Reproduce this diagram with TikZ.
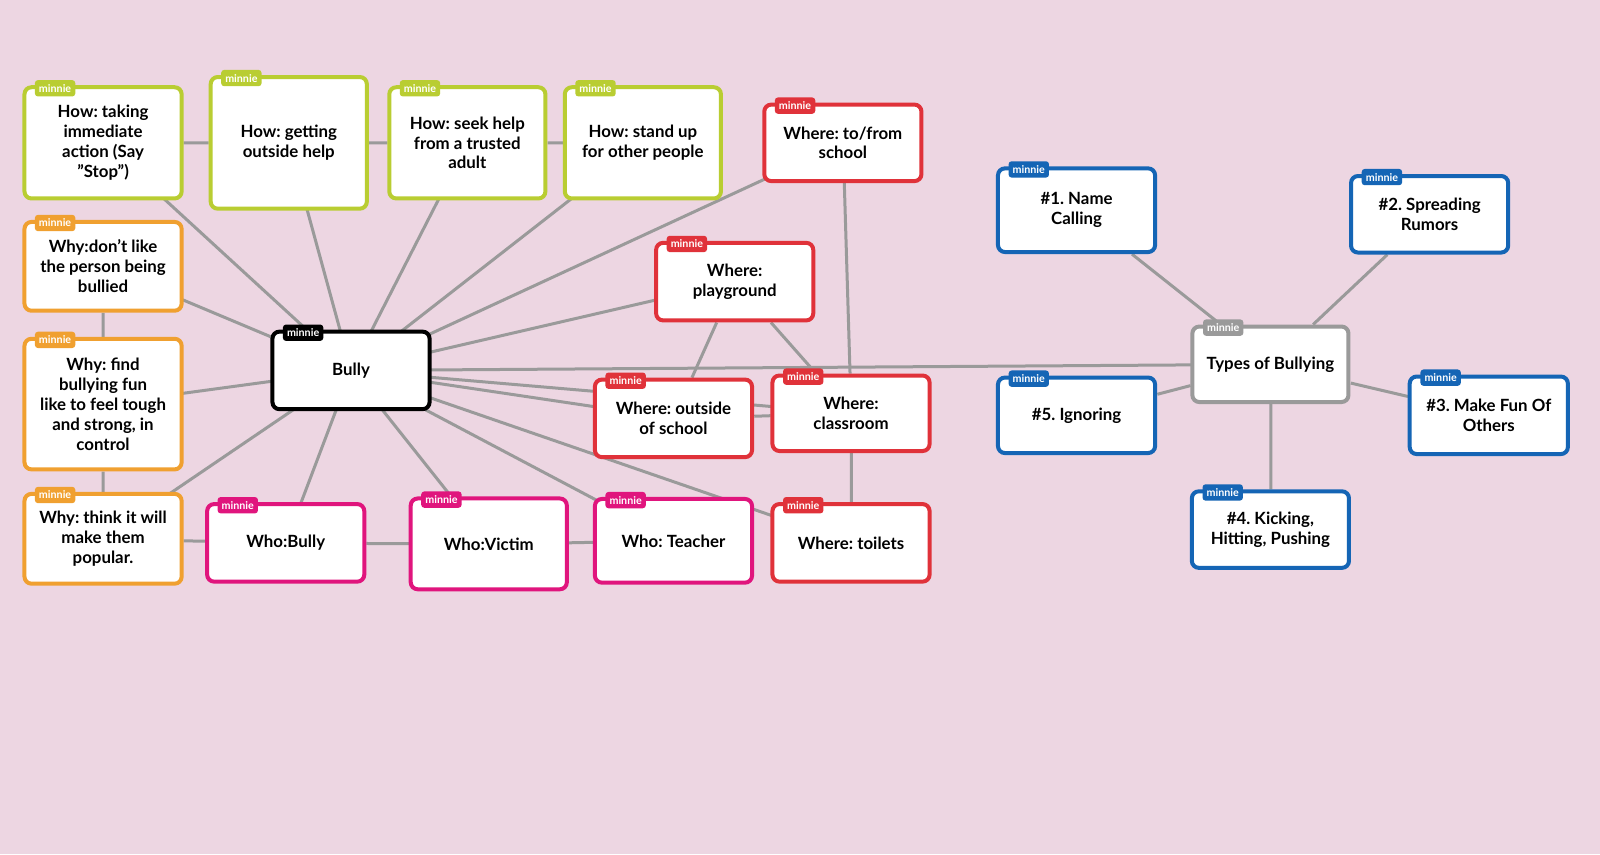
\documentclass[tikz,border=0pt]{standalone}
\usepackage{fontspec}
\setmainfont{Lato}
\frenchspacing
\begin{document}
\pgfdeclarelayer{bg}\pgfdeclarelayer{edges}\pgfsetlayers{bg,edges,main}
\definecolor{bgp}{HTML}{EDD6E2}
\definecolor{cg}{HTML}{B9CD32}
\definecolor{co}{HTML}{F0A030}
\definecolor{cm}{HTML}{E0157D}
\definecolor{cr}{HTML}{E0323A}
\definecolor{cb}{HTML}{1565B5}
\definecolor{cy}{HTML}{9A9A9A}
\definecolor{ck}{HTML}{000000}
\begin{tikzpicture}[x=1pt,y=-1pt,scale=1.0204,every node/.append style={transform shape},
  box/.style n args={3}{draw=#1,line width=4pt,fill=white,rounded corners=7pt,
    minimum width=#2,minimum height=#3+3pt,align=center,
    font=\bfseries\fontsize{16.5}{19.5}\selectfont,
    label={[fill=#1,text=white,rounded corners=3pt,inner xsep=4pt,inner ysep=2pt,minimum height=16pt,text depth=0pt,
      font=\bfseries\fontsize{10.5}{10.5}\selectfont,anchor=west,xshift=12pt,yshift=-3pt]north west:minnie}},
  e/.style={draw=cy,line width=3pt}]
\useasboundingbox (0,0) rectangle (1568,837);
\begin{pgfonlayer}{bg}\fill[bgp](0,0)rectangle(1568,837);\end{pgfonlayer}
\node[box={cg}{154pt}{106pt}] (h1) at (101,140) {How: taking\\immediate\\action (Say\\”Stop”)};
\node[box={cg}{153pt}{126pt}] (h2) at (283,140) {How: getting\\outside help};
\node[box={cg}{153pt}{106pt}] (h3) at (458,140) {How: seek help\\from a trusted\\adult};
\node[box={cg}{153pt}{106pt}] (h4) at (630,140) {How: stand up\\for other people};
\node[box={co}{154pt}{84pt}] (y1) at (101,261) {Why:don’t like\\the person being\\bullied};
\node[box={co}{154pt}{125pt}] (y2) at (101,396) {Why: find\\bullying fun\\like to feel tough\\and strong, in\\control};
\node[box={co}{154pt}{85pt}] (y3) at (101,528) {Why: think it will\\make them\\popular.};
\node[box={ck}{154pt}{73pt}] (b) at (344,363) {Bully};
\node[box={cm}{154pt}{73pt}] (w1) at (280,532) {Who:Bully};
\node[box={cm}{153pt}{86pt}] (w2) at (479,533) {Who:Victim};
\node[box={cm}{154pt}{79pt}] (w3) at (660,530) {Who: Teacher};
\node[box={cr}{154pt}{72pt}] (r1) at (826,140) {Where: to/from\\school};
\node[box={cr}{154pt}{73pt}] (r2) at (720,276) {Where:\\playground};
\node[box={cr}{154pt}{73pt}] (r3) at (660,410) {Where: outside\\of school};
\node[box={cr}{154pt}{71pt}] (r4) at (834,405) {Where:\\classroom};
\node[box={cr}{154pt}{73pt}] (r5) at (834,532) {Where: toilets};
\node[box={cy}{153pt}{71pt}] (t) at (1245,357) {Types of Bullying};
\node[box={cb}{154pt}{79pt}] (n1) at (1055,206) {\#1. Name\\Calling};
\node[box={cb}{154pt}{72pt}] (n2) at (1401,210) {\#2. Spreading\\Rumors};
\node[box={cb}{154pt}{71pt}] (n5) at (1055,407) {\#5. Ignoring};
\node[box={cb}{155pt}{73pt}] (n3) at (1459,407) {\#3. Make Fun Of\\Others};
\node[box={cb}{154pt}{72pt}] (n4) at (1245,519) {\#4. Kicking,\\Hitting, Pushing};
\begin{pgfonlayer}{edges}
\draw[e] (h1)--(h2) (h2)--(h3) (h3)--(h4) (y1)--(y2) (y2)--(y3)
  (y3)--(w1) (w1)--(w2) (w2)--(w3);
\foreach \n in {h1,h2,h3,h4,r1,r2,y1,y2,y3,w1,w2,w3,r5,r3,r4,t} \draw[e] (b.center)--(\n.center);
\draw[e] (r2)--(r3) (r2)--(r4) (r3)--(r4) (r1)--(r4) (r4)--(r5);
\foreach \n in {n1,n2,n3,n4,n5} \draw[e] (t)--(\n);
\end{pgfonlayer}
\end{tikzpicture}
\end{document}
